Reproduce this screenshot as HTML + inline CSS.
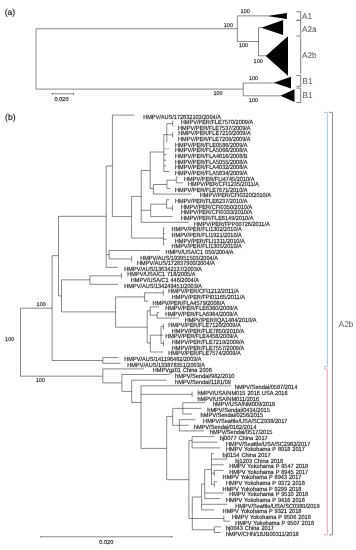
<!DOCTYPE html>
<html lang="en"><head><meta charset="utf-8"><title>Phylogenetic tree of HMPV</title>
<style>
html,body{margin:0;padding:0;background:#fff;}
body{width:356px;height:550px;overflow:hidden;}
svg{display:block;font-family:"Liberation Sans",Arial,sans-serif;}
svg text{white-space:pre;text-rendering:geometricPrecision;stroke:#222;stroke-width:0.26px;stroke-opacity:0.6;word-spacing:0.4px;}
svg{filter:blur(0.2px);}
</style></head><body>
<svg width="356" height="550" viewBox="0 0 356 550" fill="none">
<text x="4.7" y="14.8" font-size="8.6" fill="#222">(a)</text>
<path d="M36.0 28.7H237.3" stroke="#262626" stroke-width="0.55"/>
<path d="M36.0 28.7V89.1" stroke="#262626" stroke-width="0.55"/>
<path d="M237.3 15.9V41.5" stroke="#262626" stroke-width="0.55"/>
<path d="M237.3 15.9H268.0" stroke="#262626" stroke-width="0.55"/>
<polygon points="267.0,15.9 286.9,13.0 286.9,18.9" fill="#000"/>
<path d="M237.3 41.5H258.5" stroke="#262626" stroke-width="0.55"/>
<path d="M258.5 27.7V55.8" stroke="#262626" stroke-width="0.55"/>
<path d="M258.5 27.7H262.0" stroke="#262626" stroke-width="0.55"/>
<polygon points="261.3,27.7 283.1,20.1 283.1,35.1" fill="#000"/>
<path d="M258.5 55.8H266.2" stroke="#262626" stroke-width="0.55"/>
<polygon points="265.7,55.9 288.0,36.2 288.0,75.7" fill="#000"/>
<path d="M36.0 89.1H243.2" stroke="#262626" stroke-width="0.55"/>
<path d="M243.2 83.0V95.8" stroke="#262626" stroke-width="0.55"/>
<path d="M243.2 83.0H275.0" stroke="#262626" stroke-width="0.55"/>
<polygon points="273.8,82.7 291.0,76.8 291.0,88.4" fill="#000"/>
<path d="M243.2 95.8H281.0" stroke="#262626" stroke-width="0.55"/>
<polygon points="280.4,95.8 294.5,89.2 294.5,101.9" fill="#000"/>
<path d="M52.0 93.8H73.7" stroke="#262626" stroke-width="0.55"/>
<path d="M52.2 93.1V94.5" stroke="#262626" stroke-width="0.8"/>
<path d="M73.5 93.1V94.5" stroke="#262626" stroke-width="0.8"/>
<text x="61.5" y="100.9" font-size="5.6" fill="#333" text-anchor="middle">0.020</text>
<text x="245.2" y="12.6" font-size="5.5" fill="#333" text-anchor="middle">100</text>
<text x="228.4" y="26.8" font-size="5.5" fill="#333" text-anchor="middle">100</text>
<text x="243.5" y="47.4" font-size="5.5" fill="#333" text-anchor="middle">100</text>
<text x="258.2" y="63.4" font-size="5.5" fill="#333" text-anchor="middle">100</text>
<text x="218.0" y="95.2" font-size="5.5" fill="#333" text-anchor="middle">100</text>
<text x="253.5" y="79.8" font-size="5.5" fill="#333" text-anchor="middle">100</text>
<text x="253.5" y="101.9" font-size="5.5" fill="#333" text-anchor="middle">100</text>
<path d="M296.4 11.7H300.7V20.3H296.4" stroke="#7c7c7c" stroke-width="0.95" fill="none"/>
<path d="M296.4 20.3H300.7V36.1H296.4" stroke="#7c7c7c" stroke-width="0.95" fill="none"/>
<path d="M300.7 37.2V73.8" stroke="#7c7c7c" stroke-width="0.95" fill="none"/>
<path d="M296.4 75.5H300.7V86.3H296.4" stroke="#7c7c7c" stroke-width="0.95" fill="none"/>
<path d="M296.4 88.1H300.7V102.5H296.4" stroke="#7c7c7c" stroke-width="0.95" fill="none"/>
<text x="302.1" y="18.6" font-size="8.2" fill="#666666" style="stroke-width:0.08px">A1</text>
<text x="302.1" y="31.5" font-size="8.2" fill="#666666" style="stroke-width:0.08px">A2a</text>
<text x="302.1" y="58.2" font-size="8.2" fill="#666666" style="stroke-width:0.08px">A2b</text>
<text x="302.5" y="84.1" font-size="8.2" fill="#666666" style="stroke-width:0.08px">B1</text>
<text x="302.5" y="98.1" font-size="8.2" fill="#666666" style="stroke-width:0.08px">B1</text>
<text x="5.1" y="120.0" font-size="8.6" fill="#222">(b)</text>
<text x="41.2" y="306.4" font-size="5.5" fill="#333" text-anchor="middle">100</text>
<text x="9.7" y="341.2" font-size="5.5" fill="#333" text-anchor="middle">100</text>
<text x="40.4" y="382.0" font-size="5.5" fill="#333" text-anchor="middle">100</text>
<path d="M40.7 536.8H172.0" stroke="#262626" stroke-width="0.55"/>
<path d="M40.7 536.0V537.6" stroke="#262626" stroke-width="0.55"/>
<path d="M172.0 536.0V537.6" stroke="#262626" stroke-width="0.55"/>
<text x="106.3" y="543.5" font-size="5.6" fill="#333" text-anchor="middle">0.020</text>
<path d="M323.9 112.3H327.3V366.8H323.9" stroke="#8ccbea" stroke-width="1" fill="none"/>
<path d="M323.9 369H327.3V534.9H323.9" stroke="#f4a3a3" stroke-width="1" fill="none"/>
<path d="M329 112.3H332.4V534.9H329" stroke="#8a8a8a" stroke-width="1" fill="none"/>
<text x="338.6" y="326.7" font-size="8.4" fill="#666666" style="stroke-width:0.08px">A2b</text>
<path d="M20.5 308.2V376.2" stroke="#262626" stroke-width="0.55"/>
<path d="M20.5 308.2H52.1" stroke="#262626" stroke-width="0.55"/>
<path d="M20.5 376.2H102.8" stroke="#262626" stroke-width="0.55"/>
<path d="M52.1 255.7V360.5" stroke="#262626" stroke-width="0.55"/>
<path d="M52.1 255.7H58.5" stroke="#262626" stroke-width="0.55"/>
<path d="M52.1 360.5H102.8" stroke="#262626" stroke-width="0.55"/>
<path d="M58.5 216.3V295.9" stroke="#262626" stroke-width="0.55"/>
<path d="M58.5 216.3H106.2" stroke="#262626" stroke-width="0.55"/>
<path d="M58.5 295.9H61.5" stroke="#262626" stroke-width="0.55"/>
<path d="M61.5 279.8V311.9" stroke="#262626" stroke-width="0.55"/>
<path d="M61.5 279.8H89.8" stroke="#262626" stroke-width="0.55"/>
<path d="M61.5 311.9H115.6" stroke="#262626" stroke-width="0.55"/>
<path d="M89.8 275.8V284.3" stroke="#262626" stroke-width="0.55"/>
<path d="M89.8 275.8H121.4" stroke="#262626" stroke-width="0.55"/>
<path d="M121.4 273.0V278.7" stroke="#262626" stroke-width="0.55"/>
<path d="M89.8 284.3H118.0" stroke="#262626" stroke-width="0.55"/>
<path d="M106.2 166.0V267.4" stroke="#262626" stroke-width="0.55"/>
<path d="M106.2 166.0H112.4" stroke="#262626" stroke-width="0.55"/>
<path d="M106.2 267.4H118.0" stroke="#262626" stroke-width="0.55"/>
<path d="M106.2 254.7H109.1" stroke="#262626" stroke-width="0.55"/>
<path d="M109.1 250.5V258.9" stroke="#262626" stroke-width="0.55"/>
<path d="M109.1 250.5H160.0" stroke="#262626" stroke-width="0.55"/>
<path d="M109.1 258.9H131.6" stroke="#262626" stroke-width="0.55"/>
<path d="M131.6 256.1V261.7" stroke="#262626" stroke-width="0.55"/>
<path d="M112.4 115.1V216.6" stroke="#262626" stroke-width="0.55"/>
<path d="M112.4 115.1H134.6" stroke="#262626" stroke-width="0.55"/>
<path d="M112.4 216.6H131.6" stroke="#262626" stroke-width="0.55"/>
<path d="M131.6 196.4V238.1" stroke="#262626" stroke-width="0.55"/>
<path d="M131.6 196.4H141.2" stroke="#262626" stroke-width="0.55"/>
<path d="M131.6 238.1H163.5" stroke="#262626" stroke-width="0.55"/>
<path d="M163.5 227.9V244.8" stroke="#262626" stroke-width="0.55"/>
<path d="M163.5 227.9H164.7" stroke="#262626" stroke-width="0.55"/>
<path d="M163.5 233.5H164.7" stroke="#262626" stroke-width="0.55"/>
<path d="M163.5 239.2H166.6" stroke="#262626" stroke-width="0.55"/>
<path d="M163.5 244.8H164.7" stroke="#262626" stroke-width="0.55"/>
<path d="M141.2 170.5V222.3" stroke="#262626" stroke-width="0.55"/>
<path d="M141.2 170.5H150.2" stroke="#262626" stroke-width="0.55"/>
<path d="M141.2 210.3H150.7" stroke="#262626" stroke-width="0.55"/>
<path d="M141.2 222.3H188.9" stroke="#262626" stroke-width="0.55"/>
<path d="M150.7 204.2V216.6" stroke="#262626" stroke-width="0.55"/>
<path d="M150.7 216.6H172.6" stroke="#262626" stroke-width="0.55"/>
<path d="M150.7 204.2H166.6" stroke="#262626" stroke-width="0.55"/>
<path d="M166.6 199.7V208.2" stroke="#262626" stroke-width="0.55"/>
<path d="M166.6 199.7H169.3" stroke="#262626" stroke-width="0.55"/>
<path d="M166.6 208.2H172.4" stroke="#262626" stroke-width="0.55"/>
<path d="M172.4 205.3V211.0" stroke="#262626" stroke-width="0.55"/>
<path d="M150.2 152.0V188.5" stroke="#262626" stroke-width="0.55"/>
<path d="M150.2 152.0H163.8" stroke="#262626" stroke-width="0.55"/>
<path d="M150.2 188.5H153.4" stroke="#262626" stroke-width="0.55"/>
<path d="M153.4 184.5V194.1" stroke="#262626" stroke-width="0.55"/>
<path d="M153.4 194.1H191.4" stroke="#262626" stroke-width="0.55"/>
<path d="M153.4 184.5H166.9" stroke="#262626" stroke-width="0.55"/>
<path d="M166.9 180.2V188.4" stroke="#262626" stroke-width="0.55"/>
<path d="M166.9 188.4H170.4" stroke="#262626" stroke-width="0.55"/>
<path d="M166.9 180.2H176.3" stroke="#262626" stroke-width="0.55"/>
<path d="M176.3 177.1V182.8" stroke="#262626" stroke-width="0.55"/>
<path d="M176.3 177.1H178.0" stroke="#262626" stroke-width="0.55"/>
<path d="M176.3 182.8H183.0" stroke="#262626" stroke-width="0.55"/>
<path d="M163.8 134.5V171.5" stroke="#262626" stroke-width="0.55"/>
<path d="M163.8 134.5H166.8" stroke="#262626" stroke-width="0.55"/>
<path d="M163.8 148.9H169.4" stroke="#262626" stroke-width="0.35"/>
<path d="M163.8 154.6H166.3" stroke="#262626" stroke-width="0.55"/>
<path d="M163.8 160.2H166.3" stroke="#262626" stroke-width="0.55"/>
<path d="M163.8 165.9H166.3" stroke="#262626" stroke-width="0.55"/>
<path d="M163.8 171.5H169.4" stroke="#262626" stroke-width="0.55"/>
<path d="M166.8 123.6V142.5" stroke="#262626" stroke-width="0.55"/>
<path d="M166.8 123.6H172.7" stroke="#262626" stroke-width="0.55"/>
<path d="M172.7 120.7V126.4" stroke="#262626" stroke-width="0.55"/>
<path d="M166.8 134.8H172.7" stroke="#262626" stroke-width="0.55"/>
<path d="M172.7 132.0V137.7" stroke="#262626" stroke-width="0.55"/>
<path d="M115.6 296.9V327.2" stroke="#262626" stroke-width="0.55"/>
<path d="M115.6 296.9H144.6" stroke="#262626" stroke-width="0.55"/>
<path d="M115.6 327.2H147.2" stroke="#262626" stroke-width="0.55"/>
<path d="M144.6 292.8V301.2" stroke="#262626" stroke-width="0.55"/>
<path d="M144.6 292.8H163.4" stroke="#262626" stroke-width="0.55"/>
<path d="M163.4 289.9V295.6" stroke="#262626" stroke-width="0.55"/>
<path d="M144.6 301.2H148.2" stroke="#262626" stroke-width="0.55"/>
<path d="M147.2 310.8V343.0" stroke="#262626" stroke-width="0.55"/>
<path d="M147.2 310.8H150.3" stroke="#262626" stroke-width="0.55"/>
<path d="M147.2 343.0H150.3" stroke="#262626" stroke-width="0.55"/>
<path d="M150.3 306.9V315.2" stroke="#262626" stroke-width="0.55"/>
<path d="M150.3 306.9H159.1" stroke="#262626" stroke-width="0.55"/>
<path d="M150.3 315.2H157.1" stroke="#262626" stroke-width="0.55"/>
<path d="M157.1 312.5V318.1" stroke="#262626" stroke-width="0.55"/>
<path d="M157.1 312.5H159.1" stroke="#262626" stroke-width="0.55"/>
<path d="M157.1 318.1H179.0" stroke="#262626" stroke-width="0.55"/>
<path d="M150.3 335.2V352.0" stroke="#262626" stroke-width="0.55"/>
<path d="M150.3 335.2H161.0" stroke="#262626" stroke-width="0.55"/>
<path d="M150.3 352.0H163.5" stroke="#262626" stroke-width="0.55"/>
<path d="M161.0 326.6V343.5" stroke="#262626" stroke-width="0.55"/>
<path d="M161.0 326.6H163.5" stroke="#262626" stroke-width="0.55"/>
<path d="M163.5 323.8V329.4" stroke="#262626" stroke-width="0.55"/>
<path d="M161.0 335.1H163.0" stroke="#262626" stroke-width="0.55"/>
<path d="M161.0 343.5H163.5" stroke="#262626" stroke-width="0.55"/>
<path d="M163.5 340.7V346.3" stroke="#262626" stroke-width="0.55"/>
<path d="M102.8 357.6V363.3" stroke="#262626" stroke-width="0.55"/>
<path d="M102.8 357.6H118.0" stroke="#262626" stroke-width="0.55"/>
<path d="M102.8 363.3H120.6" stroke="#262626" stroke-width="0.55"/>
<path d="M102.8 368.9V382.9" stroke="#262626" stroke-width="0.55"/>
<path d="M102.8 368.9H143.8" stroke="#262626" stroke-width="0.55"/>
<path d="M102.8 382.9H121.9" stroke="#262626" stroke-width="0.55"/>
<path d="M121.9 374.5V391.4" stroke="#262626" stroke-width="0.55"/>
<path d="M121.9 374.5H169.7" stroke="#262626" stroke-width="0.55"/>
<path d="M121.9 391.4H131.7" stroke="#262626" stroke-width="0.55"/>
<path d="M131.7 380.2V402.5" stroke="#262626" stroke-width="0.55"/>
<path d="M131.7 380.2H166.4" stroke="#262626" stroke-width="0.55"/>
<path d="M131.7 402.5H141.0" stroke="#262626" stroke-width="0.55"/>
<path d="M141.0 385.8V448.4" stroke="#262626" stroke-width="0.55"/>
<path d="M141.0 385.8H230.7" stroke="#262626" stroke-width="0.55"/>
<path d="M141.0 394.3H192.1" stroke="#262626" stroke-width="0.55"/>
<path d="M192.1 391.5V397.1" stroke="#262626" stroke-width="0.55"/>
<path d="M141.0 448.4H166.7" stroke="#262626" stroke-width="0.55"/>
<path d="M166.7 416.4V479.7" stroke="#262626" stroke-width="0.55"/>
<path d="M166.7 416.4H172.7" stroke="#262626" stroke-width="0.55"/>
<path d="M166.7 479.7H188.9" stroke="#262626" stroke-width="0.55"/>
<path d="M172.7 408.4V425.3" stroke="#262626" stroke-width="0.55"/>
<path d="M172.7 408.4H182.8" stroke="#262626" stroke-width="0.55"/>
<path d="M172.7 425.3H179.4" stroke="#262626" stroke-width="0.55"/>
<path d="M182.8 402.7V414.0" stroke="#262626" stroke-width="0.55"/>
<path d="M182.8 402.7H205.3" stroke="#262626" stroke-width="0.55"/>
<path d="M182.8 408.4H201.2" stroke="#262626" stroke-width="0.55"/>
<path d="M182.8 414.0H192.0" stroke="#262626" stroke-width="0.55"/>
<path d="M179.4 419.7V430.9" stroke="#262626" stroke-width="0.55"/>
<path d="M179.4 419.7H195.3" stroke="#262626" stroke-width="0.55"/>
<path d="M179.4 425.3H188.7" stroke="#262626" stroke-width="0.55"/>
<path d="M179.4 430.9H204.0" stroke="#262626" stroke-width="0.55"/>
<path d="M188.9 440.6V518.5" stroke="#262626" stroke-width="0.55"/>
<path d="M188.9 440.6H192.1" stroke="#262626" stroke-width="0.55"/>
<path d="M188.9 518.5H223.9" stroke="#262626" stroke-width="0.55"/>
<path d="M192.1 436.6V447.9" stroke="#262626" stroke-width="0.55"/>
<path d="M192.1 436.6H214.4" stroke="#262626" stroke-width="0.55"/>
<path d="M192.1 442.2H217.4" stroke="#262626" stroke-width="0.55"/>
<path d="M192.1 447.9H220.5" stroke="#262626" stroke-width="0.55"/>
<path d="M223.9 515.5V521.2" stroke="#262626" stroke-width="0.55"/>
<path d="M223.9 521.2H230.3" stroke="#262626" stroke-width="0.55"/>
<path d="M192.3 497.0V529.8" stroke="#262626" stroke-width="0.55"/>
<path d="M192.3 497.0H201.6" stroke="#262626" stroke-width="0.55"/>
<path d="M192.3 529.8H214.3" stroke="#262626" stroke-width="0.55"/>
<path d="M214.3 526.8V532.5" stroke="#262626" stroke-width="0.55"/>
<path d="M214.3 526.8H220.9" stroke="#262626" stroke-width="0.55"/>
<path d="M214.3 532.5H220.9" stroke="#262626" stroke-width="0.55"/>
<path d="M201.6 484.0V509.9" stroke="#262626" stroke-width="0.55"/>
<path d="M201.6 484.0H204.7" stroke="#262626" stroke-width="0.55"/>
<path d="M201.6 504.3H227.1" stroke="#262626" stroke-width="0.55"/>
<path d="M201.6 509.9H214.2" stroke="#262626" stroke-width="0.55"/>
<path d="M204.7 469.4V498.6" stroke="#262626" stroke-width="0.55"/>
<path d="M204.7 469.4H211.5" stroke="#262626" stroke-width="0.55"/>
<path d="M204.7 493.0H223.6" stroke="#262626" stroke-width="0.55"/>
<path d="M204.7 498.6H220.4" stroke="#262626" stroke-width="0.55"/>
<path d="M211.5 453.5V484.4" stroke="#262626" stroke-width="0.55"/>
<path d="M211.5 453.5H213.8" stroke="#262626" stroke-width="0.55"/>
<path d="M211.5 459.1H227.1" stroke="#262626" stroke-width="0.55"/>
<path d="M211.5 464.8H223.8" stroke="#262626" stroke-width="0.55"/>
<path d="M211.5 473.2H214.3" stroke="#262626" stroke-width="0.55"/>
<path d="M214.3 470.4V476.1" stroke="#262626" stroke-width="0.55"/>
<path d="M214.3 470.4H223.5" stroke="#262626" stroke-width="0.55"/>
<path d="M211.5 484.4H214.3" stroke="#262626" stroke-width="0.55"/>
<path d="M214.3 481.7V487.3" stroke="#262626" stroke-width="0.55"/>
<path d="M214.3 481.7H217.2" stroke="#262626" stroke-width="0.55"/>
<text transform="translate(143.2 118.50) scale(0.9378 1)" font-size="5.95" fill="#1a1a1a">HMPV/AUS/172832103/2004/A</text>
<text transform="translate(180.8 124.14) scale(0.9378 1)" font-size="5.95" fill="#1a1a1a">HMPV/PER/FLE7570/2009/A</text>
<text transform="translate(178.1 129.78) scale(0.9378 1)" font-size="5.95" fill="#1a1a1a">HMPV/PER/FLE7537/2009/A</text>
<text transform="translate(178.3 135.42) scale(0.9378 1)" font-size="5.95" fill="#1a1a1a">HMPV/PER/FLE7210/2009/A</text>
<text transform="translate(178.1 141.06) scale(0.9378 1)" font-size="5.95" fill="#1a1a1a">HMPV/PER/FLE7209/2009/A</text>
<text transform="translate(175.1 146.70) scale(0.9378 1)" font-size="5.95" fill="#1a1a1a">HMPV/PER/FLE0586/2009/A</text>
<text transform="translate(175.1 152.34) scale(0.9378 1)" font-size="5.95" fill="#1a1a1a">HMPV/PER/FLA5066/2008/A</text>
<text transform="translate(175.1 157.98) scale(0.9378 1)" font-size="5.95" fill="#1a1a1a">HMPV/PER/FLA4816/2008/B</text>
<text transform="translate(175.1 163.62) scale(0.9378 1)" font-size="5.95" fill="#1a1a1a">HMPV/PER/FLA5055/2008/A</text>
<text transform="translate(175.1 169.26) scale(0.9378 1)" font-size="5.95" fill="#1a1a1a">HMPV/PER/FLA4032/2008/A</text>
<text transform="translate(175.1 174.90) scale(0.9378 1)" font-size="5.95" fill="#1a1a1a">HMPV/PER/FLA5834/2009/A</text>
<text transform="translate(184.1 180.54) scale(0.9378 1)" font-size="5.95" fill="#1a1a1a">HMPV/PER/FLI4745/2010/A</text>
<text transform="translate(188.0 186.18) scale(0.9378 1)" font-size="5.95" fill="#1a1a1a">HMPV/PER/CFI1235/2011/A</text>
<text transform="translate(175.1 191.82) scale(0.9378 1)" font-size="5.95" fill="#1a1a1a">HMPV/PER/FLE7671/2010/A</text>
<text transform="translate(199.8 197.46) scale(0.9378 1)" font-size="5.95" fill="#1a1a1a">HMPV/PER/CFI0320/2010/A</text>
<text transform="translate(175.0 203.10) scale(0.9378 1)" font-size="5.95" fill="#1a1a1a">HMPV/PER/FLE8237/2010/A</text>
<text transform="translate(181.0 208.74) scale(0.9378 1)" font-size="5.95" fill="#1a1a1a">HMPV/PER/CFI0350/2010/A</text>
<text transform="translate(181.0 214.38) scale(0.9378 1)" font-size="5.95" fill="#1a1a1a">HMPV/PER/CFI0333/2010/A</text>
<text transform="translate(181.0 220.02) scale(0.9378 1)" font-size="5.95" fill="#1a1a1a">HMPV/PER/FLE8149/2010/A</text>
<text transform="translate(194.0 225.66) scale(0.9378 1)" font-size="5.95" fill="#1a1a1a">HMPV/PER/FPP00726/2011/A</text>
<text transform="translate(171.5 231.30) scale(0.9378 1)" font-size="5.95" fill="#1a1a1a">HMPV/PER/FLI1302/2010/A</text>
<text transform="translate(171.5 236.94) scale(0.9378 1)" font-size="5.95" fill="#1a1a1a">HMPV/PER/FLI1921/2010/A</text>
<text transform="translate(174.8 242.58) scale(0.9378 1)" font-size="5.95" fill="#1a1a1a">HMPV/PER/FLI1311/2010/A</text>
<text transform="translate(171.5 248.22) scale(0.9378 1)" font-size="5.95" fill="#1a1a1a">HMPV/PER/FLI1305/2010/A</text>
<text transform="translate(165.4 253.86) scale(0.9378 1)" font-size="5.95" fill="#1a1a1a">HMPV/USA/C1 050/2004/A</text>
<text transform="translate(140.2 259.50) scale(0.9378 1)" font-size="5.95" fill="#1a1a1a">HMPV/AUS/193951503/2004/A</text>
<text transform="translate(137.1 265.14) scale(0.9378 1)" font-size="5.95" fill="#1a1a1a">HMPV/AUS/172837900/2004/A</text>
<text transform="translate(124.3 270.78) scale(0.9378 1)" font-size="5.95" fill="#1a1a1a">HMPV/AUS/136342137/2003/A</text>
<text transform="translate(127.3 276.42) scale(0.9378 1)" font-size="5.95" fill="#1a1a1a">HMPV/USA/C1 718/2005/A</text>
<text transform="translate(130.8 282.06) scale(0.9378 1)" font-size="5.95" fill="#1a1a1a">HMPV/USA/C1 446/2004/A</text>
<text transform="translate(124.3 287.70) scale(0.9378 1)" font-size="5.95" fill="#1a1a1a">HMPV/AUS/134249451/2003/A</text>
<text transform="translate(168.3 293.34) scale(0.9378 1)" font-size="5.95" fill="#1a1a1a">HMPV/PER/CFI1212/2011/A</text>
<text transform="translate(171.8 298.98) scale(0.9378 1)" font-size="5.95" fill="#1a1a1a">HMPV/PER/FPI01165/2011/A</text>
<text transform="translate(152.5 304.62) scale(0.9378 1)" font-size="5.95" fill="#1a1a1a">HMPV/PER/FLA4579/2008/A</text>
<text transform="translate(165.2 310.26) scale(0.9378 1)" font-size="5.95" fill="#1a1a1a">HMPV/PER/FLE6360/2009/A</text>
<text transform="translate(165.2 315.90) scale(0.9378 1)" font-size="5.95" fill="#1a1a1a">HMPV/PER/FLA6964/2009/A</text>
<text transform="translate(184.7 321.54) scale(0.9378 1)" font-size="5.95" fill="#1a1a1a">HMPV/PER/IQA1484/2010/A</text>
<text transform="translate(168.3 327.18) scale(0.9378 1)" font-size="5.95" fill="#1a1a1a">HMPV/PER/FLE7120/2009/A</text>
<text transform="translate(171.8 332.82) scale(0.9378 1)" font-size="5.95" fill="#1a1a1a">HMPV/PER/FLE7850/2010/A</text>
<text transform="translate(165.2 338.46) scale(0.9378 1)" font-size="5.95" fill="#1a1a1a">HMPV/PER/FLE4458/2009/A</text>
<text transform="translate(171.8 344.10) scale(0.9378 1)" font-size="5.95" fill="#1a1a1a">HMPV/PER/FLE7219/2009/A</text>
<text transform="translate(171.8 349.74) scale(0.9378 1)" font-size="5.95" fill="#1a1a1a">HMPV/PER/FLE7557/2009/A</text>
<text transform="translate(168.3 355.38) scale(0.9378 1)" font-size="5.95" fill="#1a1a1a">HMPV/PER/FLE7574/2009/A</text>
<text transform="translate(124.3 361.02) scale(0.9378 1)" font-size="5.95" fill="#1a1a1a">HMPV/AUS/141196482/2003/A</text>
<text transform="translate(127.3 366.66) scale(0.9378 1)" font-size="5.95" fill="#1a1a1a">HMPV/AUS/133878351/2003/A</text>
<text transform="translate(152.8 372.30) scale(0.9378 1)" font-size="5.95" fill="#1a1a1a">HMPVgz01 China 2008</text>
<text transform="translate(175.1 377.94) scale(0.9462 1)" font-size="5.95" fill="#1a1a1a">hMPV/Sendai/982/2010</text>
<text transform="translate(175.1 383.58) scale(0.9462 1)" font-size="5.95" fill="#1a1a1a">hMPV/Sendai/1181/09</text>
<text transform="translate(234.8 389.22) scale(0.9462 1)" font-size="5.95" fill="#1a1a1a">hMPV/Sendai/0587/2014</text>
<text transform="translate(197.4 394.86) scale(0.9462 1)" font-size="5.95" fill="#1a1a1a">hMPV/USA/NM015 2016 USA 2016</text>
<text transform="translate(197.4 400.50) scale(0.9462 1)" font-size="5.95" fill="#1a1a1a">hMPV/USA/NM011/2016</text>
<text transform="translate(213.0 406.14) scale(0.9462 1)" font-size="5.95" fill="#1a1a1a">hMPV/USA/NM009/2016</text>
<text transform="translate(207.3 411.78) scale(0.9462 1)" font-size="5.95" fill="#1a1a1a">hMPV/Sendai/0434/2015</text>
<text transform="translate(200.6 417.42) scale(0.9462 1)" font-size="5.95" fill="#1a1a1a">hMPV/Sendai/0256/2015</text>
<text transform="translate(203.1 423.06) scale(0.9462 1)" font-size="5.95" fill="#1a1a1a">HMPV/Seattle/USA/SC2938/2017</text>
<text transform="translate(193.8 428.70) scale(0.9462 1)" font-size="5.95" fill="#1a1a1a">hMPV/Sendai/0162/2014</text>
<text transform="translate(210.0 434.34) scale(0.9462 1)" font-size="5.95" fill="#1a1a1a">hMPV/Sendai/0517/2015</text>
<text transform="translate(219.7 439.98) scale(0.9462 1)" font-size="5.95" fill="#1a1a1a">bj0077 China 2017</text>
<text transform="translate(226.0 445.62) scale(0.9462 1)" font-size="5.95" fill="#1a1a1a">HMPV/Seattle/USA/SC2982/2017</text>
<text transform="translate(226.0 451.26) scale(0.9462 1)" font-size="5.95" fill="#1a1a1a">HMPV Yokohama P 8918 2017</text>
<text transform="translate(222.6 456.90) scale(0.9462 1)" font-size="5.95" fill="#1a1a1a">bj0154 China 2017</text>
<text transform="translate(235.2 462.54) scale(0.9462 1)" font-size="5.95" fill="#1a1a1a">bj1203 China 2018</text>
<text transform="translate(229.3 468.18) scale(0.9462 1)" font-size="5.95" fill="#1a1a1a">HMPV Yokohama P 9547 2018</text>
<text transform="translate(229.3 473.82) scale(0.9462 1)" font-size="5.95" fill="#1a1a1a">HMPV Yokohama P 8945 2017</text>
<text transform="translate(222.6 479.46) scale(0.9462 1)" font-size="5.95" fill="#1a1a1a">HMPV Yokohama P 8943 2017</text>
<text transform="translate(226.0 485.10) scale(0.9462 1)" font-size="5.95" fill="#1a1a1a">HMPV Yokohama P 9372 2018</text>
<text transform="translate(222.6 490.74) scale(0.9462 1)" font-size="5.95" fill="#1a1a1a">HMPV Yokohama P 9299 2018</text>
<text transform="translate(229.3 496.38) scale(0.9462 1)" font-size="5.95" fill="#1a1a1a">HMPV Yokohama P 9510 2018</text>
<text transform="translate(226.0 502.02) scale(0.9462 1)" font-size="5.95" fill="#1a1a1a">HMPV Yokohama P 9416 2018</text>
<text transform="translate(235.2 507.66) scale(0.9462 1)" font-size="5.95" fill="#1a1a1a">HMPV/Seattle/USA/SC0380/2019</text>
<text transform="translate(222.6 513.30) scale(0.9462 1)" font-size="5.95" fill="#1a1a1a">HMPV Yokohama P 9321 2018</text>
<text transform="translate(231.9 518.94) scale(0.9462 1)" font-size="5.95" fill="#1a1a1a">HMPV Yokohama P 9506 2018</text>
<text transform="translate(235.2 524.58) scale(0.9462 1)" font-size="5.95" fill="#1a1a1a">HMPV Yokohama P 9507 2018</text>
<text transform="translate(226.0 530.22) scale(0.9462 1)" font-size="5.95" fill="#1a1a1a">bj0043 China 2017</text>
<text transform="translate(226.0 535.86) scale(0.9462 1)" font-size="5.95" fill="#1a1a1a">hMPV/CHN/18JB00311/2018</text>
</svg>
</body></html>
